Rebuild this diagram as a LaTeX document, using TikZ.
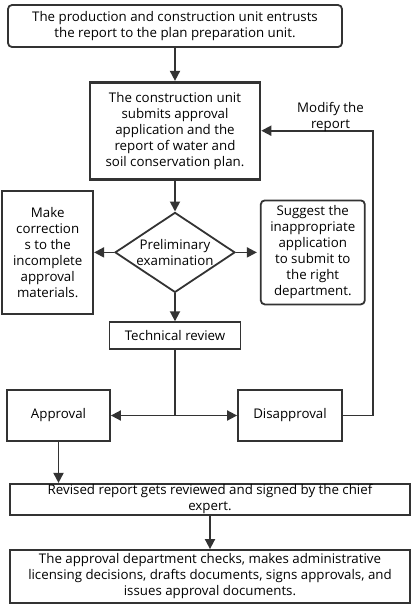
\documentclass[tikz,border=0pt]{standalone}
\usepackage{fontspec}
\setmainfont{Open Sans}
\usetikzlibrary{arrows.meta,positioning,shapes.geometric}
\definecolor{LineGrey}{HTML}{333333}
\tikzset{
  flow style/.style={
    x=1pt, y=1pt,
    font=\fontsize{13.3}{16}\selectfont,
    node distance=33pt,
  },
  box node/.style={
    draw=LineGrey,
    line width=1.8pt,
    rectangle,
    align=center,
    inner sep=1pt,
  },
  round node/.style={
    box node,
    rounded corners=4pt,
  },
  heavy node/.style={
    box node,
    line width=2.6pt,
  },
  check node/.style={
    draw=LineGrey,
    line width=1.8pt,
    diamond,
    aspect=1.5,
    align=center,
    inner sep=-8pt,
    minimum width=120pt,
    minimum height=80pt,
  },
  flow line/.style={
    draw=LineGrey,
    line width=1.8pt,
  },
  flow arrow/.style={
    flow line,
    -{Triangle[length=10pt,width=10pt]},
  },
}

\begin{document}
\begin{tikzpicture}[flow style]
  \useasboundingbox (0,0) rectangle (416,-606);
  \node[round node, minimum width=334pt, minimum height=42pt] (entrust) at (175,-26)
    {The production and construction unit entrusts\\the report to the plan preparation unit.};
  \node[heavy node, minimum width=170pt, minimum height=97pt] (submit) [below=of entrust]
    {The construction unit\\submits approval\\application and the\\report of water and\\soil conservation plan.};
  \node[check node] (prelim) [below=31pt of submit] {Preliminary\\examination};
  \node[box node, minimum width=91pt, minimum height=123pt] (correct) [left=20pt of prelim]
    {Make\\correction\\s to the\\incomplete\\approval\\materials.};
  \node[round node, minimum width=104pt, minimum height=104pt] (suggest) [right=24pt of prelim]
    {Suggest the\\inappropriate\\application\\to submit to\\the right\\department.};
  \node[box node, minimum width=131pt, minimum height=27pt] (tech) [below=28pt of prelim]
    {Technical review};
  \node[box node, minimum width=103pt, minimum height=51pt] (approve) at (58.5,-415.5) {Approval};
  \node[box node, minimum width=104pt, minimum height=51pt] (reject) at (290,-415.5) {Disapproval};
  \node[box node, minimum width=400pt, minimum height=31pt] (revise) at (210,-499.5)
    {Revised report gets reviewed and signed by the chief\\expert.};
  \node[box node, minimum width=400pt, minimum height=53pt] (issue) [below=of revise]
    {The approval department checks, makes administrative\\licensing decisions, drafts documents, signs approvals, and\\issues approval documents.};

  \coordinate (split) at (tech.south |- approve.east);
  \draw[flow arrow] (entrust) -- (submit);
  \draw[flow arrow] (submit) -- (prelim);
  \draw[flow arrow] (prelim.west) -- (correct.east);
  \draw[flow arrow] (prelim.east) -- ([xshift=-3pt]suggest.west);
  \draw[flow arrow] (prelim.south) -- (tech.north);
  \draw[flow line] (tech.south) -- (split);
  \draw[flow arrow] (split) -- (approve.east);
  \draw[flow arrow] (split) -- (reject.west);
  \draw[flow arrow] (reject.east) -- ++(30,0) |- (submit.east)
    node[pos=0.69, yshift=14pt, align=center] {Modify the\\report};
  \draw[flow arrow] (approve.south) -- (approve.south |- revise.north);
  \draw[flow arrow] (revise) -- (issue);
\end{tikzpicture}
\end{document}
